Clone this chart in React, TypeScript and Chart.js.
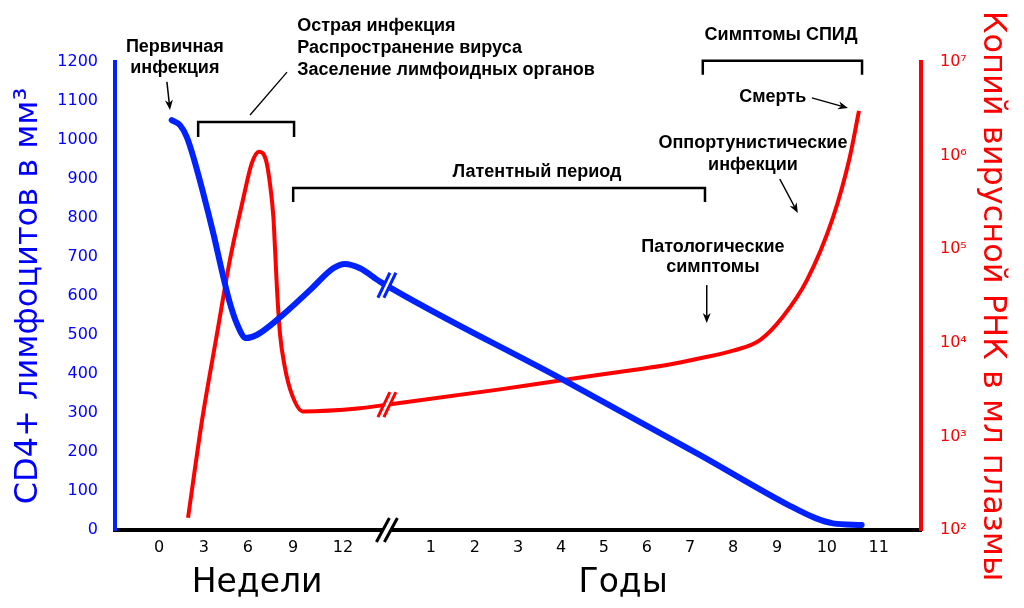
import React, { useEffect, useRef } from 'react';
import { Chart, registerables } from 'chart.js';

Chart.register(...registerables);

// Timeline position: 1 unit = one tick slot (3 weeks); weeks 0..12, axis break, then years 1..11
const xTickLabels = ['0', '3', '6', '9', '12', '1', '2', '3', '4', '5', '6', '7', '8', '9', '10', '11'];
const xTickPositions = [0, 1.02, 2.02, 3.05, 4.18, 6.18, 7.18, 8.16, 9.14, 10.11, 11.09, 12.07, 13.05, 14.05, 15.18, 16.36];
const breakPosition = 5.18;

// CD4+ lymphocytes per mm³
const cd4Positions = [0.289, 0.477, 0.63, 0.78, 1.007, 1.234, 1.461, 1.614, 1.766, 1.977, 2.22, 2.675, 3.432, 3.961, 4.227, 4.568, 5.023, 9.19, 12.3, 14.34, 14.91, 15.32, 15.97];
const cd4Values = [1051, 1038, 1008, 957, 863, 761, 649, 581, 530, 492, 500, 538, 615, 671, 682, 671, 637, 385, 192, 62, 31, 17, 13];

// Viral RNA copies per ml plasma
const rnaPositions = [0.66, 0.98, 1.32, 1.61, 1.91, 2.11, 2.27, 2.43, 2.52, 2.6, 2.64, 2.68, 2.75, 2.86, 3.01, 3.27, 4.57, 5.18, 7.75, 9.19, 10.78, 11.54, 12.3, 13.05, 13.66, 14.18, 14.73, 15.32, 15.7, 15.91];
const rnaValues = [135, 1500, 12600, 76000, 340000, 830000, 1100000, 900000, 510000, 220000, 95000, 39000, 12500, 5500, 2900, 1850, 2000, 2180, 3180, 4010, 5120, 5790, 6830, 8240, 10700, 19000, 47000, 219000, 955000, 3000000];

const rnaTickExponents = [2, 3, 4, 5, 6, 7];
const superscripts: Record<number, string> = { 2: '²', 3: '³', 4: '⁴', 5: '⁵', 6: '⁶', 7: '⁷' };

const BLUE = '#0022ff';
const BLUE_TEXT = '#0000ff';
const RED = '#ff0000';

function drawBreak(ctx: CanvasRenderingContext2D, cx: number, cy: number, color: string, dx: number, dy: number, gap: number, lw: number) {
  ctx.save();
  ctx.fillStyle = '#ffffff';
  ctx.beginPath();
  ctx.moveTo(cx - gap - dx, cy + dy);
  ctx.lineTo(cx - gap + dx, cy - dy);
  ctx.lineTo(cx + gap + dx, cy - dy);
  ctx.lineTo(cx + gap - dx, cy + dy);
  ctx.closePath();
  ctx.fill();
  ctx.strokeStyle = color;
  ctx.lineWidth = lw;
  ctx.lineCap = 'butt';
  for (const s of [-gap, gap]) {
    ctx.beginPath();
    ctx.moveTo(cx + s - dx, cy + dy);
    ctx.lineTo(cx + s + dx, cy - dy);
    ctx.stroke();
  }
  ctx.restore();
}

function drawArrow(ctx: CanvasRenderingContext2D, x1: number, y1: number, x2: number, y2: number) {
  const ang = Math.atan2(y2 - y1, x2 - x1);
  const hl = 10;
  const hw = 4;
  ctx.save();
  ctx.strokeStyle = '#000';
  ctx.fillStyle = '#000';
  ctx.lineWidth = 1.5;
  ctx.beginPath();
  ctx.moveTo(x1, y1);
  ctx.lineTo(x2 - Math.cos(ang) * hl * 0.7, y2 - Math.sin(ang) * hl * 0.7);
  ctx.stroke();
  ctx.beginPath();
  ctx.moveTo(x2, y2);
  ctx.lineTo(x2 - Math.cos(ang) * hl + Math.sin(ang) * hw, y2 - Math.sin(ang) * hl - Math.cos(ang) * hw);
  ctx.lineTo(x2 - Math.cos(ang) * hl * 0.7, y2 - Math.sin(ang) * hl * 0.7);
  ctx.lineTo(x2 - Math.cos(ang) * hl - Math.sin(ang) * hw, y2 - Math.sin(ang) * hl + Math.cos(ang) * hw);
  ctx.closePath();
  ctx.fill();
  ctx.restore();
}

const overlayPlugin = {
  id: 'overlay',
  afterDraw(chart: any) {
    const ctx: CanvasRenderingContext2D = chart.ctx;
    const xs = chart.scales.x;
    const ys = chart.scales.y;
    const X = (u: number) => xs.getPixelForValue(u);
    const Y = (v: number) => ys.getPixelForValue(v);
    const area = chart.chartArea;

    // axis breaks on the curves
    const bx = X(breakPosition);
    chart.data.datasets.forEach((ds: any, i: number) => {
      const meta = chart.getDatasetMeta(i);
      const pts = meta.data;
      for (let k = 0; k < pts.length - 1; k++) {
        const a = pts[k], b = pts[k + 1];
        if (a.x <= bx && b.x >= bx) {
          const t = b.x === a.x ? 0 : (bx - a.x) / (b.x - a.x);
          const by = a.y + (b.y - a.y) * t;
          drawBreak(ctx, bx, by, ds.borderColor, 6, 12.5, 3, 3);
          break;
        }
      }
    });
    // break on the x axis
    drawBreak(ctx, bx, area.bottom, '#000', 6.5, 12, 4, 3);

    // bottom labels
    ctx.save();
    ctx.fillStyle = '#000';
    ctx.font = '33px "DejaVu Sans"';
    ctx.textAlign = 'center';
    ctx.textBaseline = 'alphabetic';
    ctx.fillText('Недели', X(2.23), area.bottom + 62);
    ctx.fillText('Годы', X(10.55), area.bottom + 62);
    ctx.restore();

    // annotation texts
    const texts: [string, number, number, CanvasTextAlign][] = [
      ['Первичная', 0.36, 1238, 'center'],
      ['инфекция', 0.36, 1185, 'center'],
      ['Острая инфекция', 3.14, 1292, 'left'],
      ['Распространение вируса', 3.14, 1237, 'left'],
      ['Заселение лимфоидных органов', 3.14, 1180, 'left'],
      ['Латентный период', 8.59, 918, 'center'],
      ['Симптомы СПИД', 14.14, 1269, 'center'],
      ['Смерть', 13.95, 1110, 'center'],
      ['Оппортунистические', 13.5, 992, 'center'],
      ['инфекции', 13.5, 936, 'center'],
      ['Патологические', 12.59, 726, 'center'],
      ['симптомы', 12.59, 674, 'center'],
    ];
    ctx.save();
    ctx.fillStyle = '#000';
    ctx.font = 'bold 18px "Liberation Sans"';
    ctx.textBaseline = 'middle';
    for (const [t, u, v, al] of texts) {
      ctx.textAlign = al;
      ctx.fillText(t, X(u), Y(v));
    }
    ctx.restore();

    // brackets
    const brackets: [number, number, number, number][] = [
      [0.89, 3.07, 1046, 1008],
      [3.05, 12.41, 877, 841],
      [12.36, 15.98, 1203, 1167],
    ];
    ctx.save();
    ctx.strokeStyle = '#000';
    ctx.lineWidth = 2.5;
    ctx.lineJoin = 'miter';
    for (const [u1, u2, vt, vl] of brackets) {
      ctx.beginPath();
      ctx.moveTo(X(u1), Y(vl));
      ctx.lineTo(X(u1), Y(vt));
      ctx.lineTo(X(u2), Y(vt));
      ctx.lineTo(X(u2), Y(vl));
      ctx.stroke();
    }
    // leader line
    ctx.lineWidth = 1.3;
    ctx.beginPath();
    ctx.moveTo(X(2.91), Y(1174));
    ctx.lineTo(X(2.07), Y(1064));
    ctx.stroke();
    ctx.restore();

    // arrows
    const arrows: [number, number, number, number][] = [
      [0.18, 1149, 0.25, 1077],
      [14.84, 1108, 15.66, 1082],
      [14.11, 900, 14.52, 813],
      [12.45, 628, 12.45, 531],
    ];
    for (const [u1, v1, u2, v2] of arrows) drawArrow(ctx, X(u1), Y(v1), X(u2), Y(v2));
  },
};

export default function App() {
  const ref = useRef<HTMLCanvasElement>(null);
  useEffect(() => {
    Chart.defaults.font.family = '"DejaVu Sans", sans-serif';
    const chart = new Chart(ref.current as HTMLCanvasElement, {
      type: 'line',
      data: {
        datasets: [
          {
            label: 'CD4+',
            data: cd4Positions.map((x, i) => ({ x, y: cd4Values[i] })),
            borderColor: BLUE,
            borderWidth: 6,
            pointRadius: 0,
            cubicInterpolationMode: 'monotone',
            borderCapStyle: 'round',
            borderJoinStyle: 'round',
            yAxisID: 'y',
          },
          {
            label: 'RNA',
            data: rnaPositions.map((x, i) => ({ x, y: rnaValues[i] })),
            borderColor: RED,
            borderWidth: 4,
            pointRadius: 0,
            cubicInterpolationMode: 'monotone',
            borderCapStyle: 'butt',
            borderJoinStyle: 'round',
            yAxisID: 'y1',
          },
        ],
      },
      options: {
        responsive: false,
        animation: false,
        events: [],
        layout: { padding: { top: 62, left: 0, right: 0, bottom: 0 } },
        plugins: { legend: { display: false }, tooltip: { enabled: false } },
        scales: {
          x: {
            type: 'linear',
            min: -1.0,
            max: 17.32,
            afterBuildTicks: (s: any) => {
              s.ticks = xTickPositions.map((value) => ({ value }));
            },
            afterFit: (s: any) => {
              s.height = 78;
            },
            grid: { display: false, drawTicks: false },
            border: { display: true, color: '#000', width: 4 },
            ticks: {
              autoSkip: false,
              maxRotation: 0,
              color: '#000',
              font: { size: 16 },
              padding: 8,
              callback: (_v: any, i: number) => xTickLabels[i],
            },
          },
          y: {
            type: 'linear',
            position: 'left',
            min: 0,
            max: 1200,
            afterFit: (s: any) => {
              s.width = 115;
            },
            grid: { display: false, drawTicks: false },
            border: { display: true, color: BLUE, width: 4 },
            ticks: { stepSize: 100, color: BLUE_TEXT, font: { size: 16 }, padding: 17, callback: (v: any) => String(v) },
            title: {
              display: true,
              text: 'CD4+ лимфоцитов в мм³',
              color: BLUE_TEXT,
              font: { size: 32 },
              padding: { top: 9, bottom: 0 },
            },
          },
          y1: {
            type: 'logarithmic',
            position: 'right',
            min: 100,
            max: 1e7,
            afterBuildTicks: (s: any) => {
              s.ticks = rnaTickExponents.map((e) => ({ value: Math.pow(10, e) }));
            },
            afterFit: (s: any) => {
              s.width = 103;
            },
            grid: { display: false, drawTicks: false },
            border: { display: true, color: RED, width: 4 },
            ticks: {
              color: RED,
              font: { size: 16 },
              padding: 19,
              callback: (v: any) => '10' + superscripts[Math.round(Math.log10(Number(v)))],
            },
            title: {
              display: true,
              text: 'Копий вирусной РНК в мл плазмы',
              color: RED,
              font: { size: 32 },
              padding: { top: 12, bottom: 0 },
            },
          },
        },
      } as any,
      plugins: [overlayPlugin],
    });
    return () => chart.destroy();
  }, []);
  return (
    <div style={{ position: 'absolute', left: 0, top: 0, width: 1024, height: 608, background: '#fff' }}>
      <canvas ref={ref} width={1024} height={608} style={{ display: 'block', width: 1024, height: 608 }} />
    </div>
  );
}
